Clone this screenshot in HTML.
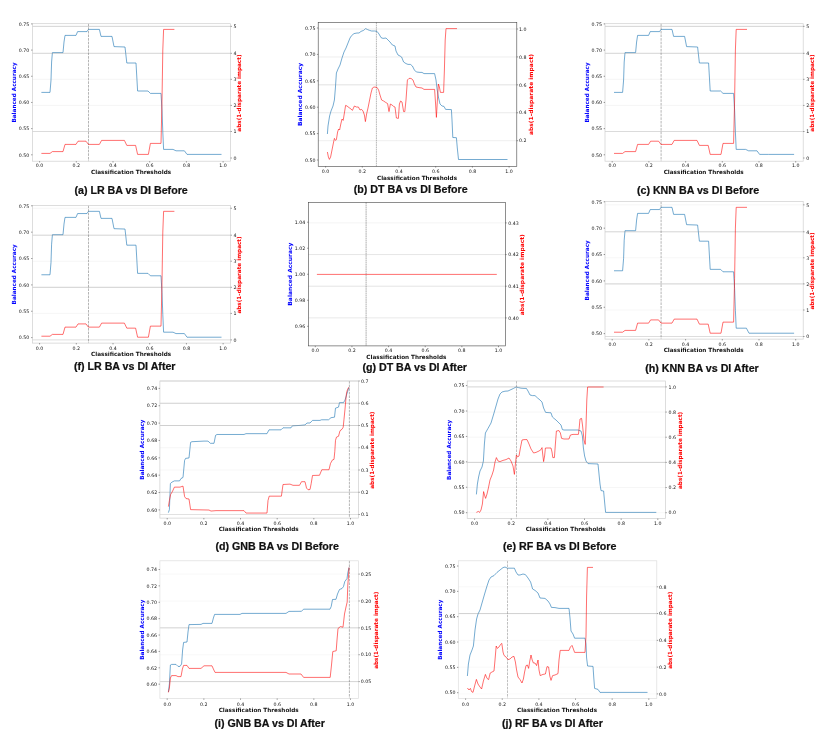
<!DOCTYPE html>
<html lang="en">
<head>
<meta charset="utf-8">
<title>BA vs DI plots</title>
<style>
html,body{margin:0;padding:0;background:#fff;}
body{width:830px;height:734px;overflow:hidden;}
svg{display:block;}
.tk{font-family:"DejaVu Sans","Liberation Sans",sans-serif;font-size:4.72px;fill:#141414;}
.lb{font-family:"DejaVu Sans","Liberation Sans",sans-serif;font-weight:bold;font-size:5.7px;}
.cap{font-family:"Liberation Sans",Arial,Helvetica,sans-serif;font-weight:bold;font-size:10.67px;fill:#111;stroke:#111;stroke-width:0.22;text-anchor:middle;}
.gr{stroke:#8c8c8c;stroke-width:0.75;}
.tm{stroke:#333;stroke-width:0.5;}
.bl{fill:none;stroke:#1f77b4;stroke-width:0.62;stroke-linejoin:round;}
.rd{fill:none;stroke:#ff0000;stroke-width:0.6;stroke-linejoin:round;stroke-opacity:0.95;}
.vl{fill:none;}
</style>
</head>
<body>
<svg width="830" height="734" viewBox="0 0 830 734">
<rect width="830" height="734" fill="#ffffff"/>

<g>
<path class="bl" d="M41.4 92.4 L50 92.4 L51 80 L51.6 62 L52.4 52.6 L63 52.6 L64 42 L65 35.4 L76 35.4 L77.6 31.6 L87 31.6 L88.4 29.4 L99.4 29.4 L101 36.4 L112 36.4 L114 46.6 L125 47 L126.8 63 L136 63 L137.6 91 L148 91 L150.4 93.4 L161 93.4 L162 110 L162.8 132 L163.6 149.4 L173 149.4 L176 150.8 L184.4 150.8 L187 154.4 L196 154.4 L221.5 154.4"/>
<line class="gr" x1="32.4" x2="230.6" y1="26.35" y2="26.35" stroke-opacity="0.5"/>
<line class="gr" x1="32.4" x2="230.6" y1="53.3" y2="53.3" stroke-opacity="0.5"/>
<line class="gr" x1="32.4" x2="230.6" y1="79.3" y2="79.3" stroke-opacity="0.12"/>
<line class="gr" x1="32.4" x2="230.6" y1="105.4" y2="105.4" stroke-opacity="0.12"/>
<line class="gr" x1="32.4" x2="230.6" y1="131.5" y2="131.5" stroke-opacity="0.42"/>
<line class="vl" x1="88.5" x2="88.5" y1="23.7" y2="161.2" stroke-opacity="1" stroke-dasharray="2.6 1" stroke="#6a6a6a" stroke-width="0.5"/>
<path class="rd" d="M41.4 153.4 L50 153.4 L52.4 151.6 L63 151.6 L65 144.4 L76 144.4 L78 141.2 L86 141.2 L88.4 144.4 L99.4 144.4 L101.6 140.4 L124.4 140.4 L126.8 145.4 L135.6 145.4 L137.6 154.4 L148.4 154.4 L150.4 143.4 L161 143.4 L162 100 L162.8 50 L163.6 29.4 L174.4 29.4"/>
<rect x="32.4" y="23.7" width="198.2" height="137.5" fill="none" stroke="#cfcfcf" stroke-width="0.7"/>
<line class="tm" x1="31.1" x2="32.4" y1="23.9" y2="23.9"/>
<text class="tk" x="29.3" y="25.6" text-anchor="end">0.75</text>
<line class="tm" x1="31.1" x2="32.4" y1="50.08" y2="50.08"/>
<text class="tk" x="29.3" y="51.78" text-anchor="end">0.70</text>
<line class="tm" x1="31.1" x2="32.4" y1="76.26" y2="76.26"/>
<text class="tk" x="29.3" y="77.96" text-anchor="end">0.65</text>
<line class="tm" x1="31.1" x2="32.4" y1="102.44" y2="102.44"/>
<text class="tk" x="29.3" y="104.14" text-anchor="end">0.60</text>
<line class="tm" x1="31.1" x2="32.4" y1="128.62" y2="128.62"/>
<text class="tk" x="29.3" y="130.32" text-anchor="end">0.55</text>
<line class="tm" x1="31.1" x2="32.4" y1="154.8" y2="154.8"/>
<text class="tk" x="29.3" y="156.5" text-anchor="end">0.50</text>
<line class="tm" x1="230.6" x2="231.9" y1="26.35" y2="26.35"/>
<text class="tk" x="233.6" y="28.05">5</text>
<line class="tm" x1="230.6" x2="231.9" y1="53.3" y2="53.3"/>
<text class="tk" x="233.6" y="55">4</text>
<line class="tm" x1="230.6" x2="231.9" y1="79.3" y2="79.3"/>
<text class="tk" x="233.6" y="81">3</text>
<line class="tm" x1="230.6" x2="231.9" y1="105.4" y2="105.4"/>
<text class="tk" x="233.6" y="107.1">2</text>
<line class="tm" x1="230.6" x2="231.9" y1="131.5" y2="131.5"/>
<text class="tk" x="233.6" y="133.2">1</text>
<line class="tm" x1="230.6" x2="231.9" y1="158" y2="158"/>
<text class="tk" x="233.6" y="159.7">0</text>
<line class="tm" x1="39.6" x2="39.6" y1="161.2" y2="162.5"/>
<text class="tk" x="39.6" y="167.4" text-anchor="middle">0.0</text>
<line class="tm" x1="76.3" x2="76.3" y1="161.2" y2="162.5"/>
<text class="tk" x="76.3" y="167.4" text-anchor="middle">0.2</text>
<line class="tm" x1="113" x2="113" y1="161.2" y2="162.5"/>
<text class="tk" x="113" y="167.4" text-anchor="middle">0.4</text>
<line class="tm" x1="149.7" x2="149.7" y1="161.2" y2="162.5"/>
<text class="tk" x="149.7" y="167.4" text-anchor="middle">0.6</text>
<line class="tm" x1="186.4" x2="186.4" y1="161.2" y2="162.5"/>
<text class="tk" x="186.4" y="167.4" text-anchor="middle">0.8</text>
<line class="tm" x1="223.1" x2="223.1" y1="161.2" y2="162.5"/>
<text class="tk" x="223.1" y="167.4" text-anchor="middle">1.0</text>
<text class="lb" fill="#0000ff" text-anchor="middle" transform="translate(16 92.45) scale(1 1) rotate(-90)">Balanced Accuracy</text>
<text class="lb" fill="#ff0000" text-anchor="middle" transform="translate(241.3 93.05) scale(1 1) rotate(-90)">abs(1-disparate impact)</text>
<text class="lb" fill="#111" text-anchor="middle" x="131.1" y="174">Classification Thresholds</text>
<text class="cap" x="131.1" y="193.6">(a) LR BA vs DI Before</text>
</g>
<g>
<path class="bl" d="M614 92.4 L622.6 92.4 L623.6 80 L624.2 62 L625 52.6 L635.6 52.6 L636.6 42 L637.6 35.4 L648.6 35.4 L650.2 31.6 L659.6 31.6 L661 29.4 L672 29.4 L673.6 36.4 L684.6 36.4 L686.6 46.6 L697.6 47 L699.4 63 L708.6 63 L710.2 91 L720.6 91 L723 93.4 L733.6 93.4 L734.6 110 L735.4 132 L736.2 149.4 L745.6 149.4 L748.6 150.8 L757 150.8 L759.6 154.4 L768.6 154.4 L794.1 154.4"/>
<line class="gr" x1="605" x2="803.2" y1="26.35" y2="26.35" stroke-opacity="0.5"/>
<line class="gr" x1="605" x2="803.2" y1="53.3" y2="53.3" stroke-opacity="0.5"/>
<line class="gr" x1="605" x2="803.2" y1="79.3" y2="79.3" stroke-opacity="0.12"/>
<line class="gr" x1="605" x2="803.2" y1="105.4" y2="105.4" stroke-opacity="0.12"/>
<line class="gr" x1="605" x2="803.2" y1="131.5" y2="131.5" stroke-opacity="0.42"/>
<line class="vl" x1="661.1" x2="661.1" y1="23.7" y2="161.2" stroke-opacity="1" stroke-dasharray="2.6 1" stroke="#6a6a6a" stroke-width="0.5"/>
<path class="rd" d="M614 153.4 L622.6 153.4 L625 151.6 L635.6 151.6 L637.6 144.4 L648.6 144.4 L650.6 141.2 L658.6 141.2 L661 144.4 L672 144.4 L674.2 140.4 L697 140.4 L699.4 145.4 L708.2 145.4 L710.2 154.4 L721 154.4 L723 143.4 L733.6 143.4 L734.6 100 L735.4 50 L736.2 29.4 L747 29.4"/>
<rect x="605" y="23.7" width="198.2" height="137.5" fill="none" stroke="#cfcfcf" stroke-width="0.7"/>
<line class="tm" x1="603.7" x2="605" y1="23.9" y2="23.9"/>
<text class="tk" x="601.9" y="25.6" text-anchor="end">0.75</text>
<line class="tm" x1="603.7" x2="605" y1="50.08" y2="50.08"/>
<text class="tk" x="601.9" y="51.78" text-anchor="end">0.70</text>
<line class="tm" x1="603.7" x2="605" y1="76.26" y2="76.26"/>
<text class="tk" x="601.9" y="77.96" text-anchor="end">0.65</text>
<line class="tm" x1="603.7" x2="605" y1="102.44" y2="102.44"/>
<text class="tk" x="601.9" y="104.14" text-anchor="end">0.60</text>
<line class="tm" x1="603.7" x2="605" y1="128.62" y2="128.62"/>
<text class="tk" x="601.9" y="130.32" text-anchor="end">0.55</text>
<line class="tm" x1="603.7" x2="605" y1="154.8" y2="154.8"/>
<text class="tk" x="601.9" y="156.5" text-anchor="end">0.50</text>
<line class="tm" x1="803.2" x2="804.5" y1="26.35" y2="26.35"/>
<text class="tk" x="806.2" y="28.05">5</text>
<line class="tm" x1="803.2" x2="804.5" y1="53.3" y2="53.3"/>
<text class="tk" x="806.2" y="55">4</text>
<line class="tm" x1="803.2" x2="804.5" y1="79.3" y2="79.3"/>
<text class="tk" x="806.2" y="81">3</text>
<line class="tm" x1="803.2" x2="804.5" y1="105.4" y2="105.4"/>
<text class="tk" x="806.2" y="107.1">2</text>
<line class="tm" x1="803.2" x2="804.5" y1="131.5" y2="131.5"/>
<text class="tk" x="806.2" y="133.2">1</text>
<line class="tm" x1="803.2" x2="804.5" y1="158" y2="158"/>
<text class="tk" x="806.2" y="159.7">0</text>
<line class="tm" x1="612.2" x2="612.2" y1="161.2" y2="162.5"/>
<text class="tk" x="612.2" y="167.4" text-anchor="middle">0.0</text>
<line class="tm" x1="648.9" x2="648.9" y1="161.2" y2="162.5"/>
<text class="tk" x="648.9" y="167.4" text-anchor="middle">0.2</text>
<line class="tm" x1="685.6" x2="685.6" y1="161.2" y2="162.5"/>
<text class="tk" x="685.6" y="167.4" text-anchor="middle">0.4</text>
<line class="tm" x1="722.3" x2="722.3" y1="161.2" y2="162.5"/>
<text class="tk" x="722.3" y="167.4" text-anchor="middle">0.6</text>
<line class="tm" x1="759" x2="759" y1="161.2" y2="162.5"/>
<text class="tk" x="759" y="167.4" text-anchor="middle">0.8</text>
<line class="tm" x1="795.7" x2="795.7" y1="161.2" y2="162.5"/>
<text class="tk" x="795.7" y="167.4" text-anchor="middle">1.0</text>
<text class="lb" fill="#0000ff" text-anchor="middle" transform="translate(588.6 92.45) scale(1 1) rotate(-90)">Balanced Accuracy</text>
<text class="lb" fill="#ff0000" text-anchor="middle" transform="translate(813.5 93.05) scale(1 1) rotate(-90)">abs(1-disparate impact)</text>
<text class="lb" fill="#111" text-anchor="middle" x="703.7" y="174">Classification Thresholds</text>
<text class="cap" x="698" y="193.6">(c) KNN BA vs DI Before</text>
</g>
<g>
<path class="bl" d="M41.4 274.78 L50 274.78 L51 262.29 L51.6 244.17 L52.4 234.7 L63 234.7 L64 224.03 L65 217.38 L76 217.38 L77.6 213.56 L87 213.56 L88.4 211.34 L99.4 211.34 L101 218.39 L112 218.39 L114 228.66 L125 229.06 L126.8 245.18 L136 245.18 L137.6 273.37 L148 273.37 L150.4 275.79 L161 275.79 L162 292.5 L162.8 314.66 L163.6 332.18 L173 332.18 L176 333.59 L184.4 333.59 L187 337.21 L196 337.21 L221.5 337.21"/>
<line class="gr" x1="32.4" x2="230.6" y1="208.25" y2="208.25" stroke-opacity="0.1"/>
<line class="gr" x1="32.4" x2="230.6" y1="235.2" y2="235.2" stroke-opacity="0.5"/>
<line class="gr" x1="32.4" x2="230.6" y1="261.2" y2="261.2" stroke-opacity="0.1"/>
<line class="gr" x1="32.4" x2="230.6" y1="287.3" y2="287.3" stroke-opacity="0.55"/>
<line class="gr" x1="32.4" x2="230.6" y1="313.4" y2="313.4" stroke-opacity="0.1"/>
<line class="gr" x1="32.4" x2="230.6" y1="339.9" y2="339.9" stroke-opacity="0.4"/>
<line class="vl" x1="88.5" x2="88.5" y1="205.6" y2="343.1" stroke-opacity="1" stroke-dasharray="2.6 1" stroke="#6a6a6a" stroke-width="0.5"/>
<path class="rd" d="M41.4 336.21 L50 336.21 L52.4 334.4 L63 334.4 L65 327.14 L76 327.14 L78 323.92 L86 323.92 L88.4 327.14 L99.4 327.14 L101.6 323.12 L124.4 323.12 L126.8 328.15 L135.6 328.15 L137.6 337.21 L148.4 337.21 L150.4 326.14 L161 326.14 L162 282.43 L162.8 232.08 L163.6 211.34 L174.4 211.34"/>
<rect x="32.4" y="205.6" width="198.2" height="137.5" fill="none" stroke="#cfcfcf" stroke-width="0.7"/>
<line class="tm" x1="31.1" x2="32.4" y1="205.801" y2="205.801"/>
<text class="tk" x="29.3" y="207.501" text-anchor="end">0.75</text>
<line class="tm" x1="31.1" x2="32.4" y1="232.165" y2="232.165"/>
<text class="tk" x="29.3" y="233.865" text-anchor="end">0.70</text>
<line class="tm" x1="31.1" x2="32.4" y1="258.528" y2="258.528"/>
<text class="tk" x="29.3" y="260.228" text-anchor="end">0.65</text>
<line class="tm" x1="31.1" x2="32.4" y1="284.891" y2="284.891"/>
<text class="tk" x="29.3" y="286.591" text-anchor="end">0.60</text>
<line class="tm" x1="31.1" x2="32.4" y1="311.254" y2="311.254"/>
<text class="tk" x="29.3" y="312.954" text-anchor="end">0.55</text>
<line class="tm" x1="31.1" x2="32.4" y1="337.618" y2="337.618"/>
<text class="tk" x="29.3" y="339.318" text-anchor="end">0.50</text>
<line class="tm" x1="230.6" x2="231.9" y1="208.25" y2="208.25"/>
<text class="tk" x="233.6" y="209.95">5</text>
<line class="tm" x1="230.6" x2="231.9" y1="235.2" y2="235.2"/>
<text class="tk" x="233.6" y="236.9">4</text>
<line class="tm" x1="230.6" x2="231.9" y1="261.2" y2="261.2"/>
<text class="tk" x="233.6" y="262.9">3</text>
<line class="tm" x1="230.6" x2="231.9" y1="287.3" y2="287.3"/>
<text class="tk" x="233.6" y="289">2</text>
<line class="tm" x1="230.6" x2="231.9" y1="313.4" y2="313.4"/>
<text class="tk" x="233.6" y="315.1">1</text>
<line class="tm" x1="230.6" x2="231.9" y1="339.9" y2="339.9"/>
<text class="tk" x="233.6" y="341.6">0</text>
<line class="tm" x1="39.6" x2="39.6" y1="343.1" y2="344.4"/>
<text class="tk" x="39.6" y="349.7" text-anchor="middle">0.0</text>
<line class="tm" x1="76.3" x2="76.3" y1="343.1" y2="344.4"/>
<text class="tk" x="76.3" y="349.7" text-anchor="middle">0.2</text>
<line class="tm" x1="113" x2="113" y1="343.1" y2="344.4"/>
<text class="tk" x="113" y="349.7" text-anchor="middle">0.4</text>
<line class="tm" x1="149.7" x2="149.7" y1="343.1" y2="344.4"/>
<text class="tk" x="149.7" y="349.7" text-anchor="middle">0.6</text>
<line class="tm" x1="186.4" x2="186.4" y1="343.1" y2="344.4"/>
<text class="tk" x="186.4" y="349.7" text-anchor="middle">0.8</text>
<line class="tm" x1="223.1" x2="223.1" y1="343.1" y2="344.4"/>
<text class="tk" x="223.1" y="349.7" text-anchor="middle">1.0</text>
<text class="lb" fill="#0000ff" text-anchor="middle" transform="translate(16 274.35) scale(1 1) rotate(-90)">Balanced Accuracy</text>
<text class="lb" fill="#ff0000" text-anchor="middle" transform="translate(241.3 274.95) scale(1 1) rotate(-90)">abs(1-disparate impact)</text>
<text class="lb" fill="#111" text-anchor="middle" x="131.1" y="356.3">Classification Thresholds</text>
<text class="cap" x="124.7" y="370">(f) LR BA vs DI After</text>
</g>
<g>
<path class="bl" d="M614 270.78 L622.6 270.78 L623.6 258.29 L624.2 240.17 L625 230.7 L635.6 230.7 L636.6 220.03 L637.6 213.38 L648.6 213.38 L650.2 209.56 L659.6 209.56 L661 207.34 L672 207.34 L673.6 214.39 L684.6 214.39 L686.6 224.66 L697.6 225.06 L699.4 241.18 L708.6 241.18 L710.2 269.37 L720.6 269.37 L723 271.79 L733.6 271.79 L734.6 288.5 L735.4 310.66 L736.2 328.18 L746.4 328.18 L749 333.21 L794.1 333.21"/>
<line class="gr" x1="605" x2="803.2" y1="204.85" y2="204.85" stroke-opacity="0.1"/>
<line class="gr" x1="605" x2="803.2" y1="231.8" y2="231.8" stroke-opacity="0.5"/>
<line class="gr" x1="605" x2="803.2" y1="257.8" y2="257.8" stroke-opacity="0.1"/>
<line class="gr" x1="605" x2="803.2" y1="283.9" y2="283.9" stroke-opacity="0.55"/>
<line class="gr" x1="605" x2="803.2" y1="310" y2="310" stroke-opacity="0.1"/>
<line class="gr" x1="605" x2="803.2" y1="336.5" y2="336.5" stroke-opacity="0.4"/>
<line class="vl" x1="661.1" x2="661.1" y1="201.6" y2="339.1" stroke-opacity="1" stroke-dasharray="2.6 1" stroke="#6a6a6a" stroke-width="0.5"/>
<path class="rd" d="M614 332.21 L622.6 332.21 L625 330.4 L635.6 330.4 L637.6 323.14 L648.6 323.14 L650.6 319.92 L658.6 319.92 L661 323.14 L672 323.14 L674.2 319.12 L697 319.12 L699.4 324.15 L708.2 324.15 L710.2 333.21 L721 333.21 L723 322.14 L733.6 322.14 L734.6 278.43 L735.4 228.08 L736.2 207.34 L747 207.34"/>
<rect x="605" y="201.6" width="198.2" height="137.5" fill="none" stroke="#cfcfcf" stroke-width="0.7"/>
<line class="tm" x1="603.7" x2="605" y1="201.801" y2="201.801"/>
<text class="tk" x="601.9" y="203.501" text-anchor="end">0.75</text>
<line class="tm" x1="603.7" x2="605" y1="228.165" y2="228.165"/>
<text class="tk" x="601.9" y="229.865" text-anchor="end">0.70</text>
<line class="tm" x1="603.7" x2="605" y1="254.528" y2="254.528"/>
<text class="tk" x="601.9" y="256.228" text-anchor="end">0.65</text>
<line class="tm" x1="603.7" x2="605" y1="280.891" y2="280.891"/>
<text class="tk" x="601.9" y="282.591" text-anchor="end">0.60</text>
<line class="tm" x1="603.7" x2="605" y1="307.254" y2="307.254"/>
<text class="tk" x="601.9" y="308.954" text-anchor="end">0.55</text>
<line class="tm" x1="603.7" x2="605" y1="333.618" y2="333.618"/>
<text class="tk" x="601.9" y="335.318" text-anchor="end">0.50</text>
<line class="tm" x1="803.2" x2="804.5" y1="204.85" y2="204.85"/>
<text class="tk" x="806.2" y="206.55">5</text>
<line class="tm" x1="803.2" x2="804.5" y1="231.8" y2="231.8"/>
<text class="tk" x="806.2" y="233.5">4</text>
<line class="tm" x1="803.2" x2="804.5" y1="257.8" y2="257.8"/>
<text class="tk" x="806.2" y="259.5">3</text>
<line class="tm" x1="803.2" x2="804.5" y1="283.9" y2="283.9"/>
<text class="tk" x="806.2" y="285.6">2</text>
<line class="tm" x1="803.2" x2="804.5" y1="310" y2="310"/>
<text class="tk" x="806.2" y="311.7">1</text>
<line class="tm" x1="803.2" x2="804.5" y1="336.5" y2="336.5"/>
<text class="tk" x="806.2" y="338.2">0</text>
<line class="tm" x1="612.2" x2="612.2" y1="339.1" y2="340.4"/>
<text class="tk" x="612.2" y="345.7" text-anchor="middle">0.0</text>
<line class="tm" x1="648.9" x2="648.9" y1="339.1" y2="340.4"/>
<text class="tk" x="648.9" y="345.7" text-anchor="middle">0.2</text>
<line class="tm" x1="685.6" x2="685.6" y1="339.1" y2="340.4"/>
<text class="tk" x="685.6" y="345.7" text-anchor="middle">0.4</text>
<line class="tm" x1="722.3" x2="722.3" y1="339.1" y2="340.4"/>
<text class="tk" x="722.3" y="345.7" text-anchor="middle">0.6</text>
<line class="tm" x1="759" x2="759" y1="339.1" y2="340.4"/>
<text class="tk" x="759" y="345.7" text-anchor="middle">0.8</text>
<line class="tm" x1="795.7" x2="795.7" y1="339.1" y2="340.4"/>
<text class="tk" x="795.7" y="345.7" text-anchor="middle">1.0</text>
<text class="lb" fill="#0000ff" text-anchor="middle" transform="translate(588.6 270.35) scale(1 1) rotate(-90)">Balanced Accuracy</text>
<text class="lb" fill="#ff0000" text-anchor="middle" transform="translate(813.5 270.95) scale(1 1) rotate(-90)">abs(1-disparate impact)</text>
<text class="lb" fill="#111" text-anchor="middle" x="703.7" y="352.3">Classification Thresholds</text>
<text class="cap" x="702" y="371.8">(h) KNN BA vs DI After</text>
</g>
<g>
<path class="bl" d="M327.4 134 L328 126 L329.6 116 L331 111 L333 106 L334.4 100 L335.4 88 L336.4 73 L338 69 L340 65 L342 58 L344 52 L346 48 L348 43 L350 38 L351.6 35.6 L354 33.6 L357 33 L359 33 L361 31.4 L363.6 30.4 L365.6 28.6 L367.6 29.6 L369.6 30.4 L371.6 31 L374.6 31 L377 31.4 L379 34 L381 37.6 L383 38.4 L386 38 L388 40 L390 42 L392.4 45 L395 46 L396 51 L398 55 L400 56 L401.6 57 L403.6 62 L406 63.6 L408 64.4 L410.4 64.4 L412.4 66 L414.4 70 L416.4 72 L420 72.4 L422 72.4 L424 73.6 L434.6 73.6 L436 80 L437.2 90 L438.4 97 L440 104 L442 106 L444 106.4 L445.6 109.4 L451.4 109.6 L452 120 L452.8 137.5 L456.4 137.7 L457.3 148 L458.5 159.5 L507.5 159.5"/>
<line class="gr" x1="318.2" x2="516.8" y1="29" y2="29" stroke-opacity="0.2"/>
<line class="gr" x1="318.2" x2="516.8" y1="56.925" y2="56.925" stroke-opacity="0.2"/>
<line class="gr" x1="318.2" x2="516.8" y1="84.85" y2="84.85" stroke-opacity="0.35"/>
<line class="gr" x1="318.2" x2="516.8" y1="112.775" y2="112.775" stroke-opacity="0.25"/>
<line class="gr" x1="318.2" x2="516.8" y1="140.7" y2="140.7" stroke-opacity="0.2"/>
<line class="vl" x1="376.4" x2="376.4" y1="22.3" y2="166.3" stroke-opacity="0.9" stroke-dasharray="1.7 0.6" stroke="#3a3a3a" stroke-width="0.4"/>
<path class="rd" d="M327.4 152 L328.4 157 L329.4 159.4 L330.6 157 L332 150 L333.2 144 L334.4 138.4 L335.6 140.4 L336.4 139.6 L337.6 132 L338.6 129 L339.6 130 L340.8 124 L342 119 L343.2 120.4 L344.4 113 L345.6 105.4 L347 106 L349 107.6 L351 109 L352.4 110.4 L354.4 106 L356.4 107 L358.4 107 L360 110 L361.6 109.4 L363 111 L364.4 115 L365.4 121.6 L366.6 114 L368 108 L369.6 100 L371 93 L372.4 88 L374 87 L377 87.4 L378.6 90 L380 95 L381.6 100 L383.6 101 L385.6 102.4 L387.6 103.6 L389 111.6 L390.4 104 L392 105 L393.6 106.4 L395 107 L396.4 118 L398.4 118.4 L399.4 104 L400.6 101 L402 102 L403.6 111.6 L404.8 111.6 L406 100 L407.4 80 L409 78.4 L411 78.4 L413 80 L414.4 84 L416 87 L419 87.6 L422 88 L424 89.4 L434.6 89.4 L435.6 104 L436.4 117.4 L437.4 100 L438.4 84 L439.4 87 L440.4 92.4 L443.6 92.4 L444.4 70 L445.2 40 L446 28.6 L457 28.6"/>
<rect x="318.2" y="22.3" width="198.6" height="144" fill="none" stroke="#444444" stroke-width="0.6"/>
<line class="tm" x1="316.9" x2="318.2" y1="28" y2="28"/>
<text class="tk" x="315.6" y="29.7" text-anchor="end">0.75</text>
<line class="tm" x1="316.9" x2="318.2" y1="54.4" y2="54.4"/>
<text class="tk" x="315.6" y="56.1" text-anchor="end">0.70</text>
<line class="tm" x1="316.9" x2="318.2" y1="80.8" y2="80.8"/>
<text class="tk" x="315.6" y="82.5" text-anchor="end">0.65</text>
<line class="tm" x1="316.9" x2="318.2" y1="107.2" y2="107.2"/>
<text class="tk" x="315.6" y="108.9" text-anchor="end">0.60</text>
<line class="tm" x1="316.9" x2="318.2" y1="133.6" y2="133.6"/>
<text class="tk" x="315.6" y="135.3" text-anchor="end">0.55</text>
<line class="tm" x1="316.9" x2="318.2" y1="160" y2="160"/>
<text class="tk" x="315.6" y="161.7" text-anchor="end">0.50</text>
<line class="tm" x1="516.8" x2="518.1" y1="29" y2="29"/>
<text class="tk" x="519.1" y="30.7">1.0</text>
<line class="tm" x1="516.8" x2="518.1" y1="56.925" y2="56.925"/>
<text class="tk" x="519.1" y="58.625">0.8</text>
<line class="tm" x1="516.8" x2="518.1" y1="84.85" y2="84.85"/>
<text class="tk" x="519.1" y="86.55">0.6</text>
<line class="tm" x1="516.8" x2="518.1" y1="112.775" y2="112.775"/>
<text class="tk" x="519.1" y="114.475">0.4</text>
<line class="tm" x1="516.8" x2="518.1" y1="140.7" y2="140.7"/>
<text class="tk" x="519.1" y="142.4">0.2</text>
<line class="tm" x1="325.6" x2="325.6" y1="166.3" y2="167.6"/>
<text class="tk" x="325.6" y="173.1" text-anchor="middle">0.0</text>
<line class="tm" x1="362.3" x2="362.3" y1="166.3" y2="167.6"/>
<text class="tk" x="362.3" y="173.1" text-anchor="middle">0.2</text>
<line class="tm" x1="399" x2="399" y1="166.3" y2="167.6"/>
<text class="tk" x="399" y="173.1" text-anchor="middle">0.4</text>
<line class="tm" x1="435.7" x2="435.7" y1="166.3" y2="167.6"/>
<text class="tk" x="435.7" y="173.1" text-anchor="middle">0.6</text>
<line class="tm" x1="472.4" x2="472.4" y1="166.3" y2="167.6"/>
<text class="tk" x="472.4" y="173.1" text-anchor="middle">0.8</text>
<line class="tm" x1="509.1" x2="509.1" y1="166.3" y2="167.6"/>
<text class="tk" x="509.1" y="173.1" text-anchor="middle">1.0</text>
<text class="lb" fill="#0000ff" text-anchor="middle" transform="translate(302 94.5) scale(1 1.05) rotate(-90)">Balanced Accuracy</text>
<text class="lb" fill="#ff0000" text-anchor="middle" transform="translate(532.6 94.5) scale(1 1.05) rotate(-90)">abs(1-disparate impact)</text>
<text class="lb" fill="#111" text-anchor="middle" x="417" y="180">Classification Thresholds</text>
<text class="cap" x="410.7" y="193.3">(b) DT BA vs DI Before</text>
</g>
<g>
<line class="gr" x1="308.4" x2="505.4" y1="222.9" y2="222.9" stroke-opacity="0.12"/>
<line class="gr" x1="308.4" x2="505.4" y1="254.567" y2="254.567" stroke-opacity="0.3"/>
<line class="gr" x1="308.4" x2="505.4" y1="286.233" y2="286.233" stroke-opacity="0.3"/>
<line class="gr" x1="308.4" x2="505.4" y1="317.9" y2="317.9" stroke-opacity="0.25"/>
<line class="vl" x1="366.1" x2="366.1" y1="202.3" y2="345.9" stroke-opacity="0.9" stroke-dasharray="1.7 0.5" stroke="#3a3a3a" stroke-width="0.45"/>
<path class="rd" d="M316.9 274.4 L496.8 274.4"/>
<rect x="308.4" y="202.3" width="197" height="143.6" fill="none" stroke="#444444" stroke-width="0.6"/>
<line class="tm" x1="307.1" x2="308.4" y1="222.2" y2="222.2"/>
<text class="tk" x="305.3" y="223.9" text-anchor="end">1.04</text>
<line class="tm" x1="307.1" x2="308.4" y1="248.225" y2="248.225"/>
<text class="tk" x="305.3" y="249.925" text-anchor="end">1.02</text>
<line class="tm" x1="307.1" x2="308.4" y1="274.25" y2="274.25"/>
<text class="tk" x="305.3" y="275.95" text-anchor="end">1.00</text>
<line class="tm" x1="307.1" x2="308.4" y1="300.275" y2="300.275"/>
<text class="tk" x="305.3" y="301.975" text-anchor="end">0.98</text>
<line class="tm" x1="307.1" x2="308.4" y1="326.3" y2="326.3"/>
<text class="tk" x="305.3" y="328" text-anchor="end">0.96</text>
<line class="tm" x1="505.4" x2="506.7" y1="222.9" y2="222.9"/>
<text class="tk" x="508.2" y="224.6">0.43</text>
<line class="tm" x1="505.4" x2="506.7" y1="254.567" y2="254.567"/>
<text class="tk" x="508.2" y="256.267">0.42</text>
<line class="tm" x1="505.4" x2="506.7" y1="286.233" y2="286.233"/>
<text class="tk" x="508.2" y="287.933">0.41</text>
<line class="tm" x1="505.4" x2="506.7" y1="317.9" y2="317.9"/>
<text class="tk" x="508.2" y="319.6">0.40</text>
<line class="tm" x1="315.3" x2="315.3" y1="345.9" y2="347.2"/>
<text class="tk" x="315.3" y="352.3" text-anchor="middle">0.0</text>
<line class="tm" x1="351.94" x2="351.94" y1="345.9" y2="347.2"/>
<text class="tk" x="351.94" y="352.3" text-anchor="middle">0.2</text>
<line class="tm" x1="388.58" x2="388.58" y1="345.9" y2="347.2"/>
<text class="tk" x="388.58" y="352.3" text-anchor="middle">0.4</text>
<line class="tm" x1="425.22" x2="425.22" y1="345.9" y2="347.2"/>
<text class="tk" x="425.22" y="352.3" text-anchor="middle">0.6</text>
<line class="tm" x1="461.86" x2="461.86" y1="345.9" y2="347.2"/>
<text class="tk" x="461.86" y="352.3" text-anchor="middle">0.8</text>
<line class="tm" x1="498.5" x2="498.5" y1="345.9" y2="347.2"/>
<text class="tk" x="498.5" y="352.3" text-anchor="middle">1.0</text>
<text class="lb" fill="#0000ff" text-anchor="middle" transform="translate(292 274.1) scale(1 1.05) rotate(-90)">Balanced Accuracy</text>
<text class="lb" fill="#ff0000" text-anchor="middle" transform="translate(524.2 274.7) scale(1 1.05) rotate(-90)">abs(1-disparate impact)</text>
<text class="lb" fill="#111" text-anchor="middle" x="406.4" y="358.9">Classification Thresholds</text>
<text class="cap" x="414.7" y="371">(g) DT BA vs DI After</text>
</g>
<g>
<path class="bl" d="M168.4 512.65 L169.4 509.64 L170.4 483.51 L172 482.1 L174.4 480.9 L179.6 480.9 L181 478.49 L183 477.48 L184.6 460.39 L185.6 458.38 L189 457.98 L190.6 442.31 L192 441.7 L204 441.1 L208 441.1 L210.4 443.31 L214 443.31 L215.6 435.27 L217 434.47 L244 434.47 L246 433.66 L267 433.66 L269 429.84 L281 429.84 L283 427.83 L291 427.83 L292.4 425.82 L300 425.42 L300 425.42 L305 424.92 L307 423.01 L310 423.01 L312.5 420.4 L320 420.4 L321.5 419.79 L328.5 419.79 L331 417.68 L334.5 417.18 L335.5 408.13 L338.5 407.13 L339.5 402.61 L343.5 402.61 L345 400.1 L346.5 395.07 L347.8 391.05 L348.8 387.53"/>
<line class="gr" x1="159.9" x2="358.5" y1="381" y2="381" stroke-opacity="0.3"/>
<line class="gr" x1="159.9" x2="358.5" y1="403.25" y2="403.25" stroke-opacity="0.55"/>
<line class="gr" x1="159.9" x2="358.5" y1="425.5" y2="425.5" stroke-opacity="0.55"/>
<line class="gr" x1="159.9" x2="358.5" y1="447.75" y2="447.75" stroke-opacity="0.1"/>
<line class="gr" x1="159.9" x2="358.5" y1="470" y2="470" stroke-opacity="0.1"/>
<line class="gr" x1="159.9" x2="358.5" y1="492.25" y2="492.25" stroke-opacity="0.5"/>
<line class="gr" x1="159.9" x2="358.5" y1="514.5" y2="514.5" stroke-opacity="0.35"/>
<line class="vl" x1="349.4" x2="349.4" y1="381" y2="518.1" stroke-opacity="1" stroke-dasharray="2.6 1" stroke="#6a6a6a" stroke-width="0.5"/>
<path class="rd" d="M168.4 506.62 L169.4 500.59 L170.6 494.56 L172.4 491.55 L174.4 487.13 L178 487.13 L180 487.13 L183 486.12 L184.6 496.57 L186 498.58 L189 498.99 L190.6 509.64 L209 510.04 L211 511.05 L216 510.64 L244 510.64 L246 513.06 L267 513.06 L268 500.59 L269.2 496.17 L281.4 496.17 L283 484.51 L290 484.11 L293 485.32 L299.5 485.32 L301.5 481.7 L305 481.7 L306.5 488.03 L308 489.74 L310 489.54 L311.2 483.51 L312.5 475.47 L319.5 475.27 L321.8 469.74 L329 469.74 L330.5 463.41 L332.5 459.89 L334 459.39 L334.8 451.35 L335.5 440.3 L336.5 437.08 L338.5 436.27 L340 430.75 L342 429.24 L343.2 427.23 L344 419.19 L345 409.14 L345.8 400.1 L346.5 393.06 L347.5 389.54 L348.8 387.23"/>
<rect x="159.9" y="381" width="198.6" height="137.1" fill="none" stroke="#cfcfcf" stroke-width="0.7"/>
<line class="tm" x1="158.6" x2="159.9" y1="388.4" y2="388.4"/>
<text class="tk" x="157.3" y="390.1" text-anchor="end">0.74</text>
<line class="tm" x1="158.6" x2="159.9" y1="405.757" y2="405.757"/>
<text class="tk" x="157.3" y="407.457" text-anchor="end">0.72</text>
<line class="tm" x1="158.6" x2="159.9" y1="423.114" y2="423.114"/>
<text class="tk" x="157.3" y="424.814" text-anchor="end">0.70</text>
<line class="tm" x1="158.6" x2="159.9" y1="440.471" y2="440.471"/>
<text class="tk" x="157.3" y="442.171" text-anchor="end">0.68</text>
<line class="tm" x1="158.6" x2="159.9" y1="457.829" y2="457.829"/>
<text class="tk" x="157.3" y="459.529" text-anchor="end">0.66</text>
<line class="tm" x1="158.6" x2="159.9" y1="475.186" y2="475.186"/>
<text class="tk" x="157.3" y="476.886" text-anchor="end">0.64</text>
<line class="tm" x1="158.6" x2="159.9" y1="492.543" y2="492.543"/>
<text class="tk" x="157.3" y="494.243" text-anchor="end">0.62</text>
<line class="tm" x1="158.6" x2="159.9" y1="509.9" y2="509.9"/>
<text class="tk" x="157.3" y="511.6" text-anchor="end">0.60</text>
<line class="tm" x1="358.5" x2="359.8" y1="381" y2="381"/>
<text class="tk" x="360.9" y="382.7">0.7</text>
<line class="tm" x1="358.5" x2="359.8" y1="403.25" y2="403.25"/>
<text class="tk" x="360.9" y="404.95">0.6</text>
<line class="tm" x1="358.5" x2="359.8" y1="425.5" y2="425.5"/>
<text class="tk" x="360.9" y="427.2">0.5</text>
<line class="tm" x1="358.5" x2="359.8" y1="447.75" y2="447.75"/>
<text class="tk" x="360.9" y="449.45">0.4</text>
<line class="tm" x1="358.5" x2="359.8" y1="470" y2="470"/>
<text class="tk" x="360.9" y="471.7">0.3</text>
<line class="tm" x1="358.5" x2="359.8" y1="492.25" y2="492.25"/>
<text class="tk" x="360.9" y="493.95">0.2</text>
<line class="tm" x1="358.5" x2="359.8" y1="514.5" y2="514.5"/>
<text class="tk" x="360.9" y="516.2">0.1</text>
<line class="tm" x1="167.2" x2="167.2" y1="518.1" y2="519.4"/>
<text class="tk" x="167.2" y="525" text-anchor="middle">0.0</text>
<line class="tm" x1="203.86" x2="203.86" y1="518.1" y2="519.4"/>
<text class="tk" x="203.86" y="525" text-anchor="middle">0.2</text>
<line class="tm" x1="240.52" x2="240.52" y1="518.1" y2="519.4"/>
<text class="tk" x="240.52" y="525" text-anchor="middle">0.4</text>
<line class="tm" x1="277.18" x2="277.18" y1="518.1" y2="519.4"/>
<text class="tk" x="277.18" y="525" text-anchor="middle">0.6</text>
<line class="tm" x1="313.84" x2="313.84" y1="518.1" y2="519.4"/>
<text class="tk" x="313.84" y="525" text-anchor="middle">0.8</text>
<line class="tm" x1="350.5" x2="350.5" y1="518.1" y2="519.4"/>
<text class="tk" x="350.5" y="525" text-anchor="middle">1.0</text>
<text class="lb" fill="#0000ff" text-anchor="middle" transform="translate(143.9 449.55) scale(1 1) rotate(-90)">Balanced Accuracy</text>
<text class="lb" fill="#ff0000" text-anchor="middle" transform="translate(374.4 450.15) scale(1 1) rotate(-90)">abs(1-disparate impact)</text>
<text class="lb" fill="#111" text-anchor="middle" x="258.7" y="531.3">Classification Thresholds</text>
<text class="cap" x="277.2" y="550.2">(d) GNB BA vs DI Before</text>
</g>
<g>
<path class="bl" d="M476.4 494.4 L477.4 484 L478.6 477 L480 471 L482 467 L483.4 461 L484.4 444 L485.4 433 L488 428.4 L491 423 L494 413 L496 406 L498 399 L500 394 L502 392 L505 391.2 L508 391 L511 389.6 L513.6 388.4 L516 387 L518.4 387.6 L521 388.2 L524 388.4 L526.4 388.4 L528 391 L530 395 L532.4 395.6 L535 395.6 L537.6 398 L540 400 L542 402 L543.6 408 L545.6 412.4 L551 412.8 L552.4 417 L554 418.4 L556 420 L559 423 L561 425 L562.4 429.6 L564 430 L578 430 L581 431 L582.4 436 L583.4 448 L584.6 456 L586 461 L588 463.6 L598 464 L599 474 L600 484 L601 490.6 L603.6 491 L604.6 502 L605.6 512.4 L632 512.4 L656.3 512.4"/>
<line class="gr" x1="467.2" x2="665.5" y1="386.9" y2="386.9" stroke-opacity="0.5"/>
<line class="gr" x1="467.2" x2="665.5" y1="412.06" y2="412.06" stroke-opacity="0.1"/>
<line class="gr" x1="467.2" x2="665.5" y1="437.22" y2="437.22" stroke-opacity="0.1"/>
<line class="gr" x1="467.2" x2="665.5" y1="462.38" y2="462.38" stroke-opacity="0.55"/>
<line class="gr" x1="467.2" x2="665.5" y1="487.54" y2="487.54" stroke-opacity="0.1"/>
<line class="gr" x1="467.2" x2="665.5" y1="512.7" y2="512.7" stroke-opacity="0.08"/>
<line class="vl" x1="516.5" x2="516.5" y1="381" y2="518.6" stroke-opacity="0.85" stroke-dasharray="2.6 1" stroke="#6a6a6a" stroke-width="0.5"/>
<path class="rd" d="M476.4 512.4 L478.4 511.4 L479.6 512.4 L481 510 L482.4 504 L483.6 491.6 L484.8 496 L485.6 498.4 L487 494 L488.4 488 L490 480 L492 475 L493.6 470 L495 462 L496.4 457.6 L498 461 L500 461.6 L503 460.4 L506 459.6 L509 458 L511 461 L513 466 L514.4 474.4 L515.6 462 L516.4 455 L517.6 457 L519 456 L520.4 448 L522 440 L524 439.6 L527 439.6 L529 444 L531 449 L533.6 453 L536 452.4 L539 451 L541 449.6 L542 447.6 L542.8 455 L543.6 461.6 L544.6 456 L545.4 448 L548 448 L551 448 L552 452 L552.8 457.6 L554.4 457.6 L555.4 444 L556.4 431 L559 430.6 L560.4 433 L561.6 438.4 L564 439 L569 439 L570.4 435 L573 434.4 L578.4 434.4 L579.2 428 L580 419 L581.6 418.4 L582.6 426 L584 440 L585.2 444.4 L586 426 L586.8 400 L587.6 387 L603.6 387"/>
<rect x="467.2" y="381" width="198.3" height="137.6" fill="none" stroke="#cfcfcf" stroke-width="0.7"/>
<line class="tm" x1="465.9" x2="467.2" y1="385.6" y2="385.6"/>
<text class="tk" x="464.6" y="387.3" text-anchor="end">0.75</text>
<line class="tm" x1="465.9" x2="467.2" y1="411.02" y2="411.02"/>
<text class="tk" x="464.6" y="412.72" text-anchor="end">0.70</text>
<line class="tm" x1="465.9" x2="467.2" y1="436.44" y2="436.44"/>
<text class="tk" x="464.6" y="438.14" text-anchor="end">0.65</text>
<line class="tm" x1="465.9" x2="467.2" y1="461.86" y2="461.86"/>
<text class="tk" x="464.6" y="463.56" text-anchor="end">0.60</text>
<line class="tm" x1="465.9" x2="467.2" y1="487.28" y2="487.28"/>
<text class="tk" x="464.6" y="488.98" text-anchor="end">0.55</text>
<line class="tm" x1="465.9" x2="467.2" y1="512.7" y2="512.7"/>
<text class="tk" x="464.6" y="514.4" text-anchor="end">0.50</text>
<line class="tm" x1="665.5" x2="666.8" y1="386.9" y2="386.9"/>
<text class="tk" x="668.4" y="388.6">1.0</text>
<line class="tm" x1="665.5" x2="666.8" y1="412.06" y2="412.06"/>
<text class="tk" x="668.4" y="413.76">0.8</text>
<line class="tm" x1="665.5" x2="666.8" y1="437.22" y2="437.22"/>
<text class="tk" x="668.4" y="438.92">0.6</text>
<line class="tm" x1="665.5" x2="666.8" y1="462.38" y2="462.38"/>
<text class="tk" x="668.4" y="464.08">0.4</text>
<line class="tm" x1="665.5" x2="666.8" y1="487.54" y2="487.54"/>
<text class="tk" x="668.4" y="489.24">0.2</text>
<line class="tm" x1="665.5" x2="666.8" y1="512.7" y2="512.7"/>
<text class="tk" x="668.4" y="514.4">0.0</text>
<line class="tm" x1="474.6" x2="474.6" y1="518.6" y2="519.9"/>
<text class="tk" x="474.6" y="525" text-anchor="middle">0.0</text>
<line class="tm" x1="511.24" x2="511.24" y1="518.6" y2="519.9"/>
<text class="tk" x="511.24" y="525" text-anchor="middle">0.2</text>
<line class="tm" x1="547.88" x2="547.88" y1="518.6" y2="519.9"/>
<text class="tk" x="547.88" y="525" text-anchor="middle">0.4</text>
<line class="tm" x1="584.52" x2="584.52" y1="518.6" y2="519.9"/>
<text class="tk" x="584.52" y="525" text-anchor="middle">0.6</text>
<line class="tm" x1="621.16" x2="621.16" y1="518.6" y2="519.9"/>
<text class="tk" x="621.16" y="525" text-anchor="middle">0.8</text>
<line class="tm" x1="657.8" x2="657.8" y1="518.6" y2="519.9"/>
<text class="tk" x="657.8" y="525" text-anchor="middle">1.0</text>
<text class="lb" fill="#0000ff" text-anchor="middle" transform="translate(451 449.8) scale(1 1) rotate(-90)">Balanced Accuracy</text>
<text class="lb" fill="#ff0000" text-anchor="middle" transform="translate(682.1 450.4) scale(1 1) rotate(-90)">abs(1-disparate impact)</text>
<text class="lb" fill="#111" text-anchor="middle" x="565.7" y="531.3">Classification Thresholds</text>
<text class="cap" x="559.7" y="550">(e) RF BA vs DI Before</text>
</g>
<g>
<path class="bl" d="M168.4 692 L169.4 684 L170.4 665 L171.6 664.4 L176 664.4 L178 666.4 L180 666.4 L181.6 664 L182.6 650 L183.6 642.4 L187 642 L188 632 L189 624.6 L201 624.4 L203 623.4 L212 623.4 L213.4 618 L214.6 614.4 L240 614.4 L242 613.4 L286 613.4 L289 611.4 L301.5 611.3 L303.5 609.2 L330 609.2 L331.2 606.5 L332.5 599.5 L336 599.3 L337.5 594 L339.5 589.5 L342 588.5 L343.5 586.5 L344.8 581.5 L347 578.5 L347.8 573 L349 567.5"/>
<line class="gr" x1="159.9" x2="358.5" y1="574.1" y2="574.1" stroke-opacity="0.08"/>
<line class="gr" x1="159.9" x2="358.5" y1="600.975" y2="600.975" stroke-opacity="0.08"/>
<line class="gr" x1="159.9" x2="358.5" y1="627.85" y2="627.85" stroke-opacity="0.55"/>
<line class="gr" x1="159.9" x2="358.5" y1="654.725" y2="654.725" stroke-opacity="0.08"/>
<line class="gr" x1="159.9" x2="358.5" y1="681.6" y2="681.6" stroke-opacity="0.5"/>
<line class="vl" x1="349.4" x2="349.4" y1="560.8" y2="698.5" stroke-opacity="1" stroke-dasharray="2.6 1" stroke="#6a6a6a" stroke-width="0.5"/>
<path class="rd" d="M168.4 692.4 L169.4 688 L170.4 678 L171.6 675.6 L176 675.6 L178 676.6 L181 676.6 L182.4 669 L183.6 665.4 L187 665.4 L189 668.4 L201 668.4 L204 665.8 L212 665.8 L213.4 669 L215 672.4 L286 672.4 L289 674 L301 674 L303.6 677.4 L330.2 677.4 L331.5 665 L332.8 651.5 L336.2 650.8 L337 640 L338 628.5 L340.5 626.5 L343 627.2 L344.5 614 L346 607 L347.2 602 L347.8 585 L348.5 576 L349 567.5"/>
<rect x="159.9" y="560.8" width="198.6" height="137.7" fill="none" stroke="#dddddd" stroke-width="0.7"/>
<line class="tm" x1="158.6" x2="159.9" y1="569.5" y2="569.5"/>
<text class="tk" x="157" y="571.2" text-anchor="end">0.74</text>
<line class="tm" x1="158.6" x2="159.9" y1="585.886" y2="585.886"/>
<text class="tk" x="157" y="587.586" text-anchor="end">0.72</text>
<line class="tm" x1="158.6" x2="159.9" y1="602.271" y2="602.271"/>
<text class="tk" x="157" y="603.971" text-anchor="end">0.70</text>
<line class="tm" x1="158.6" x2="159.9" y1="618.657" y2="618.657"/>
<text class="tk" x="157" y="620.357" text-anchor="end">0.68</text>
<line class="tm" x1="158.6" x2="159.9" y1="635.043" y2="635.043"/>
<text class="tk" x="157" y="636.743" text-anchor="end">0.66</text>
<line class="tm" x1="158.6" x2="159.9" y1="651.429" y2="651.429"/>
<text class="tk" x="157" y="653.129" text-anchor="end">0.64</text>
<line class="tm" x1="158.6" x2="159.9" y1="667.814" y2="667.814"/>
<text class="tk" x="157" y="669.514" text-anchor="end">0.62</text>
<line class="tm" x1="158.6" x2="159.9" y1="684.2" y2="684.2"/>
<text class="tk" x="157" y="685.9" text-anchor="end">0.60</text>
<line class="tm" x1="358.5" x2="359.8" y1="574.1" y2="574.1"/>
<text class="tk" x="360.7" y="575.8">0.25</text>
<line class="tm" x1="358.5" x2="359.8" y1="600.975" y2="600.975"/>
<text class="tk" x="360.7" y="602.675">0.20</text>
<line class="tm" x1="358.5" x2="359.8" y1="627.85" y2="627.85"/>
<text class="tk" x="360.7" y="629.55">0.15</text>
<line class="tm" x1="358.5" x2="359.8" y1="654.725" y2="654.725"/>
<text class="tk" x="360.7" y="656.425">0.10</text>
<line class="tm" x1="358.5" x2="359.8" y1="681.6" y2="681.6"/>
<text class="tk" x="360.7" y="683.3">0.05</text>
<line class="tm" x1="167.2" x2="167.2" y1="698.5" y2="699.8"/>
<text class="tk" x="167.2" y="705.5" text-anchor="middle">0.0</text>
<line class="tm" x1="203.86" x2="203.86" y1="698.5" y2="699.8"/>
<text class="tk" x="203.86" y="705.5" text-anchor="middle">0.2</text>
<line class="tm" x1="240.52" x2="240.52" y1="698.5" y2="699.8"/>
<text class="tk" x="240.52" y="705.5" text-anchor="middle">0.4</text>
<line class="tm" x1="277.18" x2="277.18" y1="698.5" y2="699.8"/>
<text class="tk" x="277.18" y="705.5" text-anchor="middle">0.6</text>
<line class="tm" x1="313.84" x2="313.84" y1="698.5" y2="699.8"/>
<text class="tk" x="313.84" y="705.5" text-anchor="middle">0.8</text>
<line class="tm" x1="350.5" x2="350.5" y1="698.5" y2="699.8"/>
<text class="tk" x="350.5" y="705.5" text-anchor="middle">1.0</text>
<text class="lb" fill="#0000ff" text-anchor="middle" transform="translate(143.6 629.65) scale(1 1) rotate(-90)">Balanced Accuracy</text>
<text class="lb" fill="#ff0000" text-anchor="middle" transform="translate(377.7 630.25) scale(1 1) rotate(-90)">abs(1-disparate impact)</text>
<text class="lb" fill="#111" text-anchor="middle" x="258.7" y="711.5">Classification Thresholds</text>
<text class="cap" x="269.7" y="727.3">(i) GNB BA vs DI After</text>
</g>
<g>
<path class="bl" d="M467.4 676 L468.4 664 L470 655 L472 650 L473.4 646 L475 630 L476.6 619 L478 614 L480 610 L482 603 L484.6 594 L487 586 L489 580 L491 577 L494 575.6 L497 572.4 L500 570 L503 567.6 L505 567 L507.4 568.2 L514.4 568.2 L516 572 L518 575 L520 575 L523 574 L525.4 574.6 L528 578 L530.6 582 L532.6 589 L535 590.4 L538 593 L540 598 L545 598.4 L548 601 L550 604 L551.4 607.4 L555 607.6 L559 608.4 L569 608.4 L570 618 L571 631 L573 634 L574.6 638.2 L585 638.2 L586 644 L586.6 658 L587.6 666 L593 666.4 L593.8 678 L594.6 688.4 L598 689.4 L600 692.4 L623 692.4 L647.5 692.4"/>
<line class="gr" x1="458.3" x2="656.8" y1="586.8" y2="586.8" stroke-opacity="0.08"/>
<line class="gr" x1="458.3" x2="656.8" y1="613.575" y2="613.575" stroke-opacity="0.55"/>
<line class="gr" x1="458.3" x2="656.8" y1="640.35" y2="640.35" stroke-opacity="0.08"/>
<line class="gr" x1="458.3" x2="656.8" y1="667.125" y2="667.125" stroke-opacity="0.08"/>
<line class="gr" x1="458.3" x2="656.8" y1="693.9" y2="693.9" stroke-opacity="0.06"/>
<line class="vl" x1="507.5" x2="507.5" y1="560.8" y2="698.5" stroke-opacity="0.85" stroke-dasharray="2.6 1" stroke="#6a6a6a" stroke-width="0.5"/>
<path class="rd" d="M467.4 688 L469 690 L470.4 688.4 L471.6 691.6 L473 692.4 L474.6 686 L476.4 679.4 L478 684 L480 687 L481.6 689 L483.4 681 L485.4 674.4 L487 678.4 L488.6 679.6 L490.2 673 L492 672 L494 671 L495 660 L496.2 646 L497.4 648.4 L499 647 L500.6 644.4 L501.8 643.4 L503 652 L504 655.4 L506 657 L508 659.6 L510 659 L512 657 L514 656.4 L515.4 662 L516.6 670 L518 677 L520 679.6 L522 683 L523.4 679 L524.6 672 L526 665.6 L527.4 665 L528.6 668.4 L529.8 661 L531 655 L532.2 660 L533.4 663 L535 663 L536.6 665.6 L538 660 L539 670 L540.2 675.6 L543 674.4 L545.4 674 L547 666.6 L548.6 667 L549.8 676 L551 680.4 L552.6 675.6 L555 675 L558 673.6 L559 660 L560.2 650.4 L569 650.4 L570.4 647 L572 645.4 L573.4 649 L574.6 652.4 L585 652.4 L586 636 L586.6 596 L587.4 567.4 L593 567.4"/>
<rect x="458.3" y="560.8" width="198.5" height="137.7" fill="none" stroke="#dddddd" stroke-width="0.7"/>
<line class="tm" x1="457" x2="458.3" y1="566" y2="566"/>
<text class="tk" x="455.6" y="567.7" text-anchor="end">0.75</text>
<line class="tm" x1="457" x2="458.3" y1="591.34" y2="591.34"/>
<text class="tk" x="455.6" y="593.04" text-anchor="end">0.70</text>
<line class="tm" x1="457" x2="458.3" y1="616.68" y2="616.68"/>
<text class="tk" x="455.6" y="618.38" text-anchor="end">0.65</text>
<line class="tm" x1="457" x2="458.3" y1="642.02" y2="642.02"/>
<text class="tk" x="455.6" y="643.72" text-anchor="end">0.60</text>
<line class="tm" x1="457" x2="458.3" y1="667.36" y2="667.36"/>
<text class="tk" x="455.6" y="669.06" text-anchor="end">0.55</text>
<line class="tm" x1="457" x2="458.3" y1="692.7" y2="692.7"/>
<text class="tk" x="455.6" y="694.4" text-anchor="end">0.50</text>
<line class="tm" x1="656.8" x2="658.1" y1="586.8" y2="586.8"/>
<text class="tk" x="658.9" y="588.5">0.8</text>
<line class="tm" x1="656.8" x2="658.1" y1="613.575" y2="613.575"/>
<text class="tk" x="658.9" y="615.275">0.6</text>
<line class="tm" x1="656.8" x2="658.1" y1="640.35" y2="640.35"/>
<text class="tk" x="658.9" y="642.05">0.4</text>
<line class="tm" x1="656.8" x2="658.1" y1="667.125" y2="667.125"/>
<text class="tk" x="658.9" y="668.825">0.2</text>
<line class="tm" x1="656.8" x2="658.1" y1="693.9" y2="693.9"/>
<text class="tk" x="658.9" y="695.6">0.0</text>
<line class="tm" x1="465.6" x2="465.6" y1="698.5" y2="699.8"/>
<text class="tk" x="465.6" y="705.5" text-anchor="middle">0.0</text>
<line class="tm" x1="502.24" x2="502.24" y1="698.5" y2="699.8"/>
<text class="tk" x="502.24" y="705.5" text-anchor="middle">0.2</text>
<line class="tm" x1="538.88" x2="538.88" y1="698.5" y2="699.8"/>
<text class="tk" x="538.88" y="705.5" text-anchor="middle">0.4</text>
<line class="tm" x1="575.52" x2="575.52" y1="698.5" y2="699.8"/>
<text class="tk" x="575.52" y="705.5" text-anchor="middle">0.6</text>
<line class="tm" x1="612.16" x2="612.16" y1="698.5" y2="699.8"/>
<text class="tk" x="612.16" y="705.5" text-anchor="middle">0.8</text>
<line class="tm" x1="648.8" x2="648.8" y1="698.5" y2="699.8"/>
<text class="tk" x="648.8" y="705.5" text-anchor="middle">1.0</text>
<text class="lb" fill="#0000ff" text-anchor="middle" transform="translate(442 629.65) scale(1 1) rotate(-90)">Balanced Accuracy</text>
<text class="lb" fill="#ff0000" text-anchor="middle" transform="translate(672.3 630.25) scale(1 1) rotate(-90)">abs(1-disparate impact)</text>
<text class="lb" fill="#111" text-anchor="middle" x="557" y="711.5">Classification Thresholds</text>
<text class="cap" x="552.4" y="727.3">(j) RF BA vs DI After</text>
</g>
</svg>
</body>
</html>
